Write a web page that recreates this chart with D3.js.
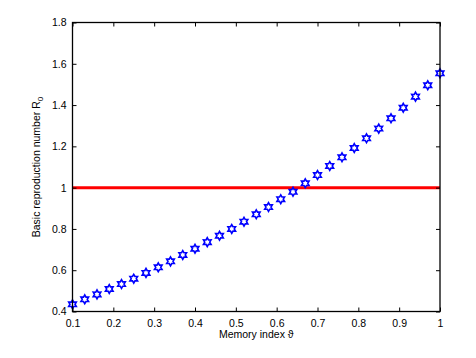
<!DOCTYPE html>
<html><head><meta charset="utf-8">
<script src="https://cdn.jsdelivr.net/npm/d3@7"></script>
<style>body{margin:0;background:#fff}svg{display:block}text{font-family:"Liberation Sans",Arial,sans-serif;fill:#000}</style>
</head><body>
<script>
const memoryIndex = [0.10,0.13,0.16,0.19,0.22,0.25,0.28,0.31,0.34,0.37,0.40,0.43,0.46,0.49,0.52,0.55,0.58,0.61,0.64,0.67,0.70,0.73,0.76,0.79,0.82,0.85,0.88,0.91,0.94,0.97,1.00];
const R0 = [0.435,0.459,0.483,0.509,0.533,0.559,0.587,0.614,0.643,0.674,0.704,0.736,0.767,0.800,0.835,0.871,0.906,0.944,0.980,1.021,1.061,1.105,1.147,1.192,1.239,1.286,1.336,1.387,1.441,1.496,1.554];
const thresholdValue = [1, 1];
const xTicks = [0.1,0.2,0.3,0.4,0.5,0.6,0.7,0.8,0.9,1];
const yTicks = [0.4,0.6,0.8,1,1.2,1.4,1.6,1.8];

const W=476,H=358;
const L=72.5,R=440,T=22.5,B=311.5;
const svg=d3.select("body").append("svg").attr("width",W).attr("height",H);
const x=d3.scaleLinear().domain([0.1,1]).range([L,R]);
const y=d3.scaleLinear().domain([0.4,1.8]).range([B,T]);
const fmt=d=>String(d);

// red line
svg.append("line").attr("x1",x(0.1)).attr("x2",x(1)).attr("y1",y(thresholdValue[0])).attr("y2",y(thresholdValue[1]))
  .attr("stroke","#ff0000").attr("stroke-width",3);

// hexagram markers
function hexagram(ro,ri){const p=[];for(let i=0;i<12;i++){const a=-Math.PI/2+i*Math.PI/6;const r=i%2?ri:ro;p.push([r*Math.cos(a),r*Math.sin(a)]);}return "M"+p.map(q=>q.join(",")).join("L")+"Z";}
const hp=hexagram(4.4,2.5);
svg.append("g").selectAll("path").data(memoryIndex).join("path")
  .attr("d",hp).attr("transform",(d,i)=>`translate(${x(d)},${y(R0[i])})`)
  .attr("fill","none").attr("stroke","#0000ff").attr("stroke-width",1.6);

// axes
const ax=svg.append("g").attr("transform",`translate(0,${B})`).call(d3.axisBottom(x).tickValues(xTicks).tickFormat(fmt).tickSizeInner(-4).tickSizeOuter(0).tickPadding(8));
const axT=svg.append("g").attr("transform",`translate(0,${T})`).call(d3.axisTop(x).tickValues(xTicks).tickFormat("").tickSizeInner(-4).tickSizeOuter(0));
const ay=svg.append("g").attr("transform",`translate(${L},0)`).call(d3.axisLeft(y).tickValues(yTicks).tickFormat(fmt).tickSizeInner(-4).tickSizeOuter(0).tickPadding(6));
const ayR=svg.append("g").attr("transform",`translate(${R},0)`).call(d3.axisRight(y).tickValues(yTicks).tickFormat("").tickSizeInner(-4).tickSizeOuter(0));
[ax,axT,ay,ayR].forEach(g=>{g.select(".domain").remove();g.selectAll("line").attr("stroke","#000");g.selectAll("text").attr("font-size","10.5px").attr("font-family","'Liberation Sans',Arial,sans-serif").attr("fill","#000");});
svg.append("rect").attr("x",L).attr("y",T).attr("width",R-L).attr("height",B-T).attr("fill","none").attr("stroke","#000").attr("stroke-width",1.3);

// labels
svg.append("text").attr("x",(L+R)/2).attr("y",338).attr("text-anchor","middle").attr("font-size","10.5px").text("Memory index ϑ");
const yl=svg.append("text").attr("transform",`translate(40,${(T+B)/2}) rotate(-90)`).attr("text-anchor","middle").attr("font-size","10.5px");
yl.append("tspan").text("Basic reproduction number R");
yl.append("tspan").attr("dy",3).attr("font-size","8px").text("0");
</script>
</body></html>
